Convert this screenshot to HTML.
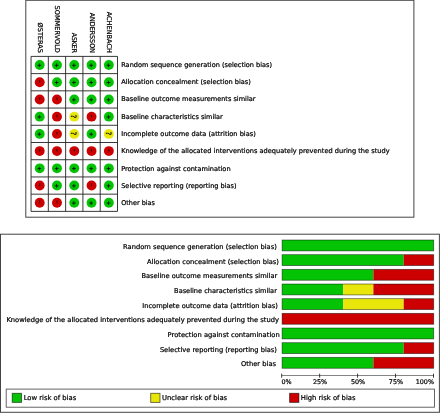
<!DOCTYPE html>
<html lang="en"><head><meta charset="utf-8"><title>Risk of bias</title>
<style>html,body{margin:0;padding:0;background:#fff}svg{display:block}text{font-family:"DejaVu Sans","Liberation Sans",sans-serif;fill:#000;stroke:#000;stroke-width:0.22px}</style></head><body>
<svg width="440" height="413" viewBox="0 0 440 413">
<rect width="440" height="413" fill="#fff"/>
<rect x="25.8" y="0.3" width="388.1" height="216.9" fill="none" stroke="#444" stroke-width="1"/>
<line x1="31.05" y1="56.40" x2="31.05" y2="211.38" stroke="#222" stroke-width="0.9"/>
<line x1="48.34" y1="56.40" x2="48.34" y2="211.38" stroke="#222" stroke-width="0.9"/>
<line x1="65.63" y1="56.40" x2="65.63" y2="211.38" stroke="#222" stroke-width="0.9"/>
<line x1="82.92" y1="56.40" x2="82.92" y2="211.38" stroke="#222" stroke-width="0.9"/>
<line x1="100.21" y1="56.40" x2="100.21" y2="211.38" stroke="#222" stroke-width="0.9"/>
<line x1="117.50" y1="56.40" x2="117.50" y2="211.38" stroke="#222" stroke-width="0.9"/>
<line x1="31.05" y1="56.40" x2="117.50" y2="56.40" stroke="#222" stroke-width="0.9"/>
<line x1="31.05" y1="73.62" x2="117.50" y2="73.62" stroke="#222" stroke-width="0.9"/>
<line x1="31.05" y1="90.84" x2="117.50" y2="90.84" stroke="#222" stroke-width="0.9"/>
<line x1="31.05" y1="108.06" x2="117.50" y2="108.06" stroke="#222" stroke-width="0.9"/>
<line x1="31.05" y1="125.28" x2="117.50" y2="125.28" stroke="#222" stroke-width="0.9"/>
<line x1="31.05" y1="142.50" x2="117.50" y2="142.50" stroke="#222" stroke-width="0.9"/>
<line x1="31.05" y1="159.72" x2="117.50" y2="159.72" stroke="#222" stroke-width="0.9"/>
<line x1="31.05" y1="176.94" x2="117.50" y2="176.94" stroke="#222" stroke-width="0.9"/>
<line x1="31.05" y1="194.16" x2="117.50" y2="194.16" stroke="#222" stroke-width="0.9"/>
<line x1="31.05" y1="211.38" x2="117.50" y2="211.38" stroke="#222" stroke-width="0.9"/>
<text transform="translate(37.70,22.60) rotate(90)" textLength="30.3" lengthAdjust="spacingAndGlyphs" font-size="6.6">ØSTERAS</text>
<text transform="translate(54.98,5.60) rotate(90)" textLength="47.3" lengthAdjust="spacingAndGlyphs" font-size="6.6">SOMMERVOLD</text>
<text transform="translate(72.27,32.70) rotate(90)" textLength="20.2" lengthAdjust="spacingAndGlyphs" font-size="6.6">ASKER</text>
<text transform="translate(89.56,12.70) rotate(90)" textLength="40.2" lengthAdjust="spacingAndGlyphs" font-size="6.6">ANDERSSON</text>
<text transform="translate(106.85,11.70) rotate(90)" textLength="41.2" lengthAdjust="spacingAndGlyphs" font-size="6.6">ACHENBACH</text>
<circle cx="39.70" cy="65.01" r="4.95" fill="#04c304"/>
<path d="M37.40 65.31h3.8M39.30 63.41v3.8" stroke="#000" stroke-width="0.95" fill="none" opacity="0.8"/>
<circle cx="56.98" cy="65.01" r="4.95" fill="#04c304"/>
<path d="M54.69 65.31h3.8M56.59 63.41v3.8" stroke="#000" stroke-width="0.95" fill="none" opacity="0.8"/>
<circle cx="74.27" cy="65.01" r="4.95" fill="#04c304"/>
<path d="M71.97 65.31h3.8M73.87 63.41v3.8" stroke="#000" stroke-width="0.95" fill="none" opacity="0.8"/>
<circle cx="91.56" cy="65.01" r="4.95" fill="#04c304"/>
<path d="M89.27 65.31h3.8M91.16 63.41v3.8" stroke="#000" stroke-width="0.95" fill="none" opacity="0.8"/>
<circle cx="108.85" cy="65.01" r="4.95" fill="#04c304"/>
<path d="M106.55 65.31h3.8M108.45 63.41v3.8" stroke="#000" stroke-width="0.95" fill="none" opacity="0.8"/>
<text x="121.2" y="66.50" textLength="150.9" lengthAdjust="spacingAndGlyphs" font-size="6.6">Random sequence generation (selection bias)</text>
<circle cx="39.70" cy="82.23" r="4.95" fill="#cc0000"/>
<path d="M39.70 80.03v2.8" stroke="#000" stroke-width="0.95" fill="none" opacity="0.7"/>
<circle cx="56.98" cy="82.23" r="4.95" fill="#04c304"/>
<path d="M54.69 82.53h3.8M56.59 80.63v3.8" stroke="#000" stroke-width="0.95" fill="none" opacity="0.8"/>
<circle cx="74.27" cy="82.23" r="4.95" fill="#04c304"/>
<path d="M71.97 82.53h3.8M73.87 80.63v3.8" stroke="#000" stroke-width="0.95" fill="none" opacity="0.8"/>
<circle cx="91.56" cy="82.23" r="4.95" fill="#04c304"/>
<path d="M89.27 82.53h3.8M91.16 80.63v3.8" stroke="#000" stroke-width="0.95" fill="none" opacity="0.8"/>
<circle cx="108.85" cy="82.23" r="4.95" fill="#04c304"/>
<path d="M106.55 82.53h3.8M108.45 80.63v3.8" stroke="#000" stroke-width="0.95" fill="none" opacity="0.8"/>
<text x="121.2" y="83.84" textLength="129.7" lengthAdjust="spacingAndGlyphs" font-size="6.6">Allocation concealment (selection bias)</text>
<circle cx="39.70" cy="99.45" r="4.95" fill="#cc0000"/>
<path d="M39.70 97.25v2.8" stroke="#000" stroke-width="0.95" fill="none" opacity="0.7"/>
<circle cx="56.98" cy="99.45" r="4.95" fill="#cc0000"/>
<path d="M56.98 97.25v2.8" stroke="#000" stroke-width="0.95" fill="none" opacity="0.7"/>
<circle cx="74.27" cy="99.45" r="4.95" fill="#04c304"/>
<path d="M71.97 99.75h3.8M73.87 97.85v3.8" stroke="#000" stroke-width="0.95" fill="none" opacity="0.8"/>
<circle cx="91.56" cy="99.45" r="4.95" fill="#04c304"/>
<path d="M89.27 99.75h3.8M91.16 97.85v3.8" stroke="#000" stroke-width="0.95" fill="none" opacity="0.8"/>
<circle cx="108.85" cy="99.45" r="4.95" fill="#04c304"/>
<path d="M106.55 99.75h3.8M108.45 97.85v3.8" stroke="#000" stroke-width="0.95" fill="none" opacity="0.8"/>
<text x="121.2" y="101.18" textLength="134.3" lengthAdjust="spacingAndGlyphs" font-size="6.6">Baseline outcome measurements similar</text>
<circle cx="39.70" cy="116.67" r="4.95" fill="#04c304"/>
<path d="M37.40 116.97h3.8M39.30 115.07v3.8" stroke="#000" stroke-width="0.95" fill="none" opacity="0.8"/>
<circle cx="56.98" cy="116.67" r="4.95" fill="#cc0000"/>
<path d="M56.98 114.47v2.8" stroke="#000" stroke-width="0.95" fill="none" opacity="0.7"/>
<circle cx="74.27" cy="116.67" r="4.95" fill="#e8e60a"/>
<text transform="translate(71.37,116.37) rotate(90)" text-anchor="middle" font-size="7.4" stroke-width="0.45">?</text>
<circle cx="91.56" cy="116.67" r="4.95" fill="#cc0000"/>
<path d="M91.56 114.47v2.8" stroke="#000" stroke-width="0.95" fill="none" opacity="0.7"/>
<circle cx="108.85" cy="116.67" r="4.95" fill="#04c304"/>
<path d="M106.55 116.97h3.8M108.45 115.07v3.8" stroke="#000" stroke-width="0.95" fill="none" opacity="0.8"/>
<text x="121.2" y="118.52" textLength="101.6" lengthAdjust="spacingAndGlyphs" font-size="6.6">Baseline characteristics similar</text>
<circle cx="39.70" cy="133.89" r="4.95" fill="#04c304"/>
<path d="M37.40 134.19h3.8M39.30 132.29v3.8" stroke="#000" stroke-width="0.95" fill="none" opacity="0.8"/>
<circle cx="56.98" cy="133.89" r="4.95" fill="#cc0000"/>
<path d="M56.98 131.69v2.8" stroke="#000" stroke-width="0.95" fill="none" opacity="0.7"/>
<circle cx="74.27" cy="133.89" r="4.95" fill="#e8e60a"/>
<text transform="translate(71.37,133.59) rotate(90)" text-anchor="middle" font-size="7.4" stroke-width="0.45">?</text>
<circle cx="91.56" cy="133.89" r="4.95" fill="#04c304"/>
<path d="M89.27 134.19h3.8M91.16 132.29v3.8" stroke="#000" stroke-width="0.95" fill="none" opacity="0.8"/>
<circle cx="108.85" cy="133.89" r="4.95" fill="#e8e60a"/>
<text transform="translate(105.95,133.59) rotate(90)" text-anchor="middle" font-size="7.4" stroke-width="0.45">?</text>
<text x="121.2" y="135.86" textLength="134.6" lengthAdjust="spacingAndGlyphs" font-size="6.6">Incomplete outcome data (attrition bias)</text>
<circle cx="39.70" cy="151.11" r="4.95" fill="#cc0000"/>
<path d="M39.70 148.91v2.8" stroke="#000" stroke-width="0.95" fill="none" opacity="0.7"/>
<circle cx="56.98" cy="151.11" r="4.95" fill="#cc0000"/>
<path d="M56.98 148.91v2.8" stroke="#000" stroke-width="0.95" fill="none" opacity="0.7"/>
<circle cx="74.27" cy="151.11" r="4.95" fill="#cc0000"/>
<path d="M74.27 148.91v2.8" stroke="#000" stroke-width="0.95" fill="none" opacity="0.7"/>
<circle cx="91.56" cy="151.11" r="4.95" fill="#cc0000"/>
<path d="M91.56 148.91v2.8" stroke="#000" stroke-width="0.95" fill="none" opacity="0.7"/>
<circle cx="108.85" cy="151.11" r="4.95" fill="#cc0000"/>
<path d="M108.85 148.91v2.8" stroke="#000" stroke-width="0.95" fill="none" opacity="0.7"/>
<text x="121.2" y="153.20" textLength="268.4" lengthAdjust="spacingAndGlyphs" font-size="6.6">Knowledge of the allocated interventions adequately prevented during the study</text>
<circle cx="39.70" cy="168.33" r="4.95" fill="#04c304"/>
<path d="M37.40 168.63h3.8M39.30 166.73v3.8" stroke="#000" stroke-width="0.95" fill="none" opacity="0.8"/>
<circle cx="56.98" cy="168.33" r="4.95" fill="#04c304"/>
<path d="M54.69 168.63h3.8M56.59 166.73v3.8" stroke="#000" stroke-width="0.95" fill="none" opacity="0.8"/>
<circle cx="74.27" cy="168.33" r="4.95" fill="#04c304"/>
<path d="M71.97 168.63h3.8M73.87 166.73v3.8" stroke="#000" stroke-width="0.95" fill="none" opacity="0.8"/>
<circle cx="91.56" cy="168.33" r="4.95" fill="#04c304"/>
<path d="M89.27 168.63h3.8M91.16 166.73v3.8" stroke="#000" stroke-width="0.95" fill="none" opacity="0.8"/>
<circle cx="108.85" cy="168.33" r="4.95" fill="#04c304"/>
<path d="M106.55 168.63h3.8M108.45 166.73v3.8" stroke="#000" stroke-width="0.95" fill="none" opacity="0.8"/>
<text x="121.2" y="170.54" textLength="109.4" lengthAdjust="spacingAndGlyphs" font-size="6.6">Protection against contamination</text>
<circle cx="39.70" cy="185.55" r="4.95" fill="#cc0000"/>
<path d="M39.70 183.35v2.8" stroke="#000" stroke-width="0.95" fill="none" opacity="0.7"/>
<circle cx="56.98" cy="185.55" r="4.95" fill="#04c304"/>
<path d="M54.69 185.85h3.8M56.59 183.95v3.8" stroke="#000" stroke-width="0.95" fill="none" opacity="0.8"/>
<circle cx="74.27" cy="185.55" r="4.95" fill="#04c304"/>
<path d="M71.97 185.85h3.8M73.87 183.95v3.8" stroke="#000" stroke-width="0.95" fill="none" opacity="0.8"/>
<circle cx="91.56" cy="185.55" r="4.95" fill="#cc0000"/>
<path d="M91.56 183.35v2.8" stroke="#000" stroke-width="0.95" fill="none" opacity="0.7"/>
<circle cx="108.85" cy="185.55" r="4.95" fill="#04c304"/>
<path d="M106.55 185.85h3.8M108.45 183.95v3.8" stroke="#000" stroke-width="0.95" fill="none" opacity="0.8"/>
<text x="121.2" y="187.88" textLength="115.4" lengthAdjust="spacingAndGlyphs" font-size="6.6">Selective reporting (reporting bias)</text>
<circle cx="39.70" cy="202.77" r="4.95" fill="#cc0000"/>
<path d="M39.70 200.57v2.8" stroke="#000" stroke-width="0.95" fill="none" opacity="0.7"/>
<circle cx="56.98" cy="202.77" r="4.95" fill="#cc0000"/>
<path d="M56.98 200.57v2.8" stroke="#000" stroke-width="0.95" fill="none" opacity="0.7"/>
<circle cx="74.27" cy="202.77" r="4.95" fill="#04c304"/>
<path d="M71.97 203.07h3.8M73.87 201.17v3.8" stroke="#000" stroke-width="0.95" fill="none" opacity="0.8"/>
<circle cx="91.56" cy="202.77" r="4.95" fill="#04c304"/>
<path d="M89.27 203.07h3.8M91.16 201.17v3.8" stroke="#000" stroke-width="0.95" fill="none" opacity="0.8"/>
<circle cx="108.85" cy="202.77" r="4.95" fill="#04c304"/>
<path d="M106.55 203.07h3.8M108.45 201.17v3.8" stroke="#000" stroke-width="0.95" fill="none" opacity="0.8"/>
<text x="121.2" y="205.22" textLength="33.7" lengthAdjust="spacingAndGlyphs" font-size="6.6">Other bias</text>
<rect x="0.5" y="234.2" width="438.9" height="178.1" fill="none" stroke="#444" stroke-width="1"/>
<rect x="282.10" y="240.00" width="151.60" height="10.9" fill="#04c304"/>
<rect x="282.10" y="240.00" width="151.60" height="10.9" fill="none" stroke="rgba(0,0,0,0.55)" stroke-width="0.8"/>
<text x="123.10" y="248.90" textLength="153.7" lengthAdjust="spacingAndGlyphs" font-size="6.7">Random sequence generation (selection bias)</text>
<rect x="282.10" y="254.67" width="121.63" height="10.9" fill="#04c304"/>
<rect x="403.73" y="254.67" width="29.97" height="10.9" fill="#cc0000"/>
<rect x="282.10" y="254.67" width="151.60" height="10.9" fill="none" stroke="rgba(0,0,0,0.55)" stroke-width="0.8"/>
<text x="147.00" y="263.57" textLength="132.0" lengthAdjust="spacingAndGlyphs" font-size="6.7">Allocation concealment (selection bias)</text>
<rect x="282.10" y="269.34" width="91.31" height="10.9" fill="#04c304"/>
<rect x="373.41" y="269.34" width="60.29" height="10.9" fill="#cc0000"/>
<rect x="282.10" y="269.34" width="151.60" height="10.9" fill="none" stroke="rgba(0,0,0,0.55)" stroke-width="0.8"/>
<text x="141.40" y="278.24" textLength="135.8" lengthAdjust="spacingAndGlyphs" font-size="6.7">Baseline outcome measurements similar</text>
<rect x="282.10" y="284.01" width="60.99" height="10.9" fill="#04c304"/>
<rect x="343.09" y="284.01" width="30.32" height="10.9" fill="#e8e60a"/>
<rect x="373.41" y="284.01" width="60.29" height="10.9" fill="#cc0000"/>
<rect x="282.10" y="284.01" width="151.60" height="10.9" fill="none" stroke="rgba(0,0,0,0.55)" stroke-width="0.8"/>
<text x="174.10" y="292.91" textLength="102.8" lengthAdjust="spacingAndGlyphs" font-size="6.7">Baseline characteristics similar</text>
<rect x="282.10" y="298.68" width="60.99" height="10.9" fill="#04c304"/>
<rect x="343.09" y="298.68" width="60.64" height="10.9" fill="#e8e60a"/>
<rect x="403.73" y="298.68" width="29.97" height="10.9" fill="#cc0000"/>
<rect x="282.10" y="298.68" width="151.60" height="10.9" fill="none" stroke="rgba(0,0,0,0.55)" stroke-width="0.8"/>
<text x="142.20" y="307.58" textLength="135.7" lengthAdjust="spacingAndGlyphs" font-size="6.7">Incomplete outcome data (attrition bias)</text>
<rect x="282.10" y="313.35" width="151.60" height="10.9" fill="#cc0000"/>
<rect x="282.10" y="313.35" width="151.60" height="10.9" fill="none" stroke="rgba(0,0,0,0.55)" stroke-width="0.8"/>
<text x="6.40" y="322.25" textLength="272.6" lengthAdjust="spacingAndGlyphs" font-size="6.7">Knowledge of the allocated interventions adequately prevented during the study</text>
<rect x="282.10" y="328.02" width="151.60" height="10.9" fill="#04c304"/>
<rect x="282.10" y="328.02" width="151.60" height="10.9" fill="none" stroke="rgba(0,0,0,0.55)" stroke-width="0.8"/>
<text x="167.60" y="336.92" textLength="112.1" lengthAdjust="spacingAndGlyphs" font-size="6.7">Protection against contamination</text>
<rect x="282.10" y="342.69" width="121.63" height="10.9" fill="#04c304"/>
<rect x="403.73" y="342.69" width="29.97" height="10.9" fill="#cc0000"/>
<rect x="282.10" y="342.69" width="151.60" height="10.9" fill="none" stroke="rgba(0,0,0,0.55)" stroke-width="0.8"/>
<text x="159.90" y="351.59" textLength="117.0" lengthAdjust="spacingAndGlyphs" font-size="6.7">Selective reporting (reporting bias)</text>
<rect x="282.10" y="357.36" width="91.31" height="10.9" fill="#04c304"/>
<rect x="373.41" y="357.36" width="60.29" height="10.9" fill="#cc0000"/>
<rect x="282.10" y="357.36" width="151.60" height="10.9" fill="none" stroke="rgba(0,0,0,0.55)" stroke-width="0.8"/>
<text x="241.10" y="366.26" textLength="34.9" lengthAdjust="spacingAndGlyphs" font-size="6.7">Other bias</text>
<path d="M281.70 375.5H433.50" stroke="#777" stroke-width="0.9" fill="none"/>
<path d="M281.70 373.7V377.7" stroke="#222" stroke-width="0.9" fill="none"/>
<text x="281.50" y="384.3" font-size="6.4" stroke-width="0.1">0%</text>
<path d="M319.65 373.7V377.7" stroke="#222" stroke-width="0.9" fill="none"/>
<text x="320.05" y="384.3" text-anchor="middle" font-size="6.4" stroke-width="0.1">25%</text>
<path d="M357.60 373.7V377.7" stroke="#222" stroke-width="0.9" fill="none"/>
<text x="358.00" y="384.3" text-anchor="middle" font-size="6.4" stroke-width="0.1">50%</text>
<path d="M395.55 373.7V377.7" stroke="#222" stroke-width="0.9" fill="none"/>
<text x="395.95" y="384.3" text-anchor="middle" font-size="6.4" stroke-width="0.1">75%</text>
<path d="M433.50 373.7V377.7" stroke="#222" stroke-width="0.9" fill="none"/>
<text x="434.00" y="384.3" text-anchor="end" font-size="6.4" stroke-width="0.1">100%</text>
<rect x="6.2" y="389.1" width="428.3" height="18.1" fill="#fff" stroke="#555" stroke-width="0.9"/>
<rect x="12.2" y="393.3" width="9.3" height="9.1" fill="#04c304" stroke="rgba(0,0,0,0.6)" stroke-width="0.9"/>
<text x="23.70" y="400.3" font-size="6.8">Low risk of bias</text>
<rect x="150.7" y="393.3" width="9.3" height="9.1" fill="#e8e60a" stroke="rgba(0,0,0,0.6)" stroke-width="0.9"/>
<text x="162.00" y="400.3" font-size="6.8">Unclear risk of bias</text>
<rect x="289.6" y="393.3" width="9.3" height="9.1" fill="#cc0000" stroke="rgba(0,0,0,0.6)" stroke-width="0.9"/>
<text x="300.80" y="400.3" font-size="6.8">High risk of bias</text>
</svg></body></html>
